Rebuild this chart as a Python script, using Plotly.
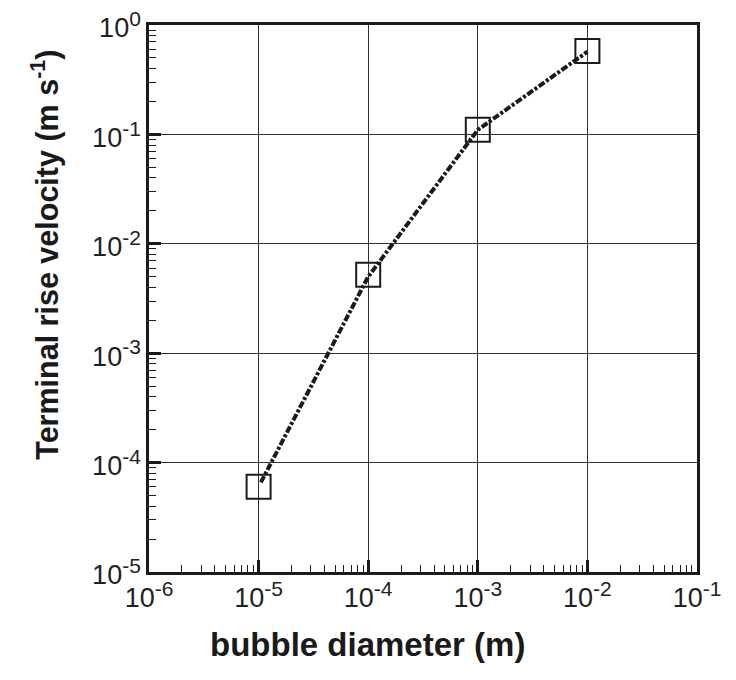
import plotly.graph_objects as go

# measured bubbles (open squares)
diam = [1e-5, 1e-4, 1e-3, 1e-2]
vel = [6.0e-5, 5.2e-3, 0.11, 0.58]

# model curve (dash-dot line)
line_d = [1.05e-5, 1e-4, 1e-3, 1e-2]
line_v = [6.6e-5, 5.0e-3, 0.11, 0.57]

decades_x = [1e-6, 1e-5, 1e-4, 1e-3, 1e-2, 1e-1]
exps_x = ["-6", "-5", "-4", "-3", "-2", "-1"]
decades_y = [1e-5, 1e-4, 1e-3, 1e-2, 1e-1, 1e0]
exps_y = ["-5", "-4", "-3", "-2", "-1", "0"]


def power_label(e):
    return "10<sup><span style='font-size:21px'>" + e + "</span></sup>"


fig = go.Figure()
fig.add_trace(go.Scatter(
    x=line_d, y=line_v, mode="lines",
    line=dict(color="#1a1a1a", width=4, dash="7px,2px,3px,2px"),
    showlegend=False,
))
fig.add_trace(go.Scatter(
    x=diam, y=vel, mode="markers",
    marker=dict(symbol="square-open", size=24, color="#1a1a1a",
                line=dict(width=2, color="#1a1a1a")),
    showlegend=False,
))

font = "Liberation Sans, Arial, Helvetica, sans-serif"
axis_common = dict(
    type="log",
    automargin=False,
    showline=True, linecolor="#1a1a1a", linewidth=2.5, mirror=True,
    showgrid=True, gridcolor="#333333", gridwidth=1,
    zeroline=False,
    ticks="inside", ticklen=12, tickwidth=2.5, tickcolor="#1a1a1a",
    minor=dict(ticks="inside", ticklen=7, tickwidth=1.2, tickcolor="#1a1a1a",
               dtick="D1", showgrid=False),
    tickfont=dict(family=font, size=27, color="#222222"),
    ticklabeloverflow="allow",
)

fig.update_xaxes(**axis_common, range=[-6, -1],
                 tickvals=decades_x, ticktext=[power_label(e) for e in exps_x])
# y labels nudged down a little so the top one stays inside the page
fig.update_yaxes(**axis_common, range=[-5, 0], ticklabelshift=3,
                 tickvals=decades_y, ticktext=[power_label(e) for e in exps_y])

# axis titles sit off-centre in the original, so place them as annotations
fig.add_annotation(
    text="bubble diameter (m)", xref="paper", yref="paper",
    x=0.398, y=-0.133, xanchor="center", yanchor="middle", showarrow=False,
    font=dict(family=font, size=33, color="#1a1a1a", weight="bold"),
)
fig.add_annotation(
    text="Terminal rise velocity (m s<sup>-1</sup>)", xref="paper", yref="paper",
    x=-0.188, y=0.58, xanchor="center", yanchor="middle", showarrow=False,
    textangle=-90,
    font=dict(family=font, size=30.5, color="#1a1a1a", weight="bold"),
)

# page body adds an 8px offset, so margins are trimmed by 8
fig.update_layout(
    width=736, height=680,
    margin=dict(l=141, r=47, t=17, b=116, autoexpand=False),
    plot_bgcolor="white", paper_bgcolor="white",
)

fig.write_html("out.html")
